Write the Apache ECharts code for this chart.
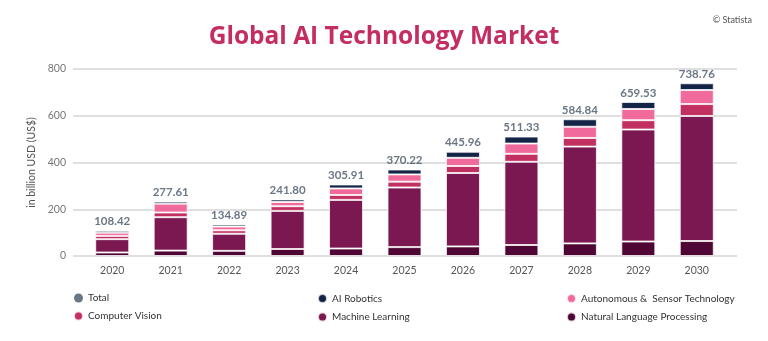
<!DOCTYPE html>
<html>
<head>
<meta charset="utf-8">
<script src="https://cdn.jsdelivr.net/npm/echarts@6/dist/echarts.min.js"></script>
<style>html,body{margin:0;padding:0;background:#fff}#c{width:768px;height:341px}</style>
</head>
<body>
<div id="c"></div>
<script>
var years = ['2020','2021','2022','2023','2024','2025','2026','2027','2028','2029','2030'];
var totals = ['108.42','277.61','134.89','241.80','305.91','370.22','445.96','511.33','584.84','659.53','738.76'];
var nlp = [15, 23, 22, 30, 32, 38, 41, 47, 54, 62, 64];
var machineLearning = [57, 143, 73, 163, 208, 255, 314, 356, 414, 479, 535];
var computerVision = [14, 20, 15, 20, 21, 25, 30, 34, 37, 40, 51];
var autonomous = [14, 38, 16, 18, 28, 31, 35, 44, 48, 48, 60];
var robotics = [8, 9, 9, 11, 17, 21, 26, 30, 32, 30, 29];
var yTicks = [0, 200, 400, 600, 800];

var FONT = 'Lato, "Open Sans", sans-serif';
var stackTop = years.map(function(_, i){
  return nlp[i] + machineLearning[i] + computerVision[i] + autonomous[i] + robotics[i];
});

function barSeries(name, data, color){
  return {
    name: name, type: 'bar', stack: 'all', data: data,
    xAxisIndex: 1, yAxisIndex: 1, barWidth: 34,
    itemStyle: { color: color, borderColor: 'rgba(255,255,255,0.75)', borderWidth: 1 }
  };
}

var chart = echarts.init(document.getElementById('c'), null, {renderer: 'canvas'});
chart.setOption({
  animation: false,
  textStyle: { fontFamily: FONT },
  title: [
    { text: 'Global AI Technology Market', left: 'center', top: 20,
      textStyle: { color: '#c42d62', fontSize: 24.5, fontWeight: 'bold', fontFamily: '"Open Sans", sans-serif' } },
    { text: '© Statista', right: 11, top: 11,
      textStyle: { color: '#555', fontSize: 9, fontWeight: 'normal', fontFamily: FONT } }
  ],
  grid: [
    { left: 73, right: 31, top: 69, bottom: 85 },
    { left: 83, right: 42, top: 69, bottom: 85 }
  ],
  xAxis: [
    { type: 'value', gridIndex: 0, min: 0, max: 1, show: false },
    { type: 'category', gridIndex: 1, data: years,
      axisLine: { show: false }, axisTick: { show: false },
      axisLabel: { color: '#555', fontSize: 10.5, margin: 9, fontFamily: FONT } }
  ],
  yAxis: [
    { type: 'value', gridIndex: 0, min: yTicks[0], max: yTicks[yTicks.length-1], interval: 200,
      axisLine: { show: false }, axisTick: { show: false },
      axisLabel: { color: '#777', fontSize: 10.5, margin: 7, fontFamily: FONT },
      splitLine: { lineStyle: { color: '#d4d4d4', width: 1.5 } },
      name: 'in billion USD (US$)', nameLocation: 'middle', nameGap: 36,
      nameTextStyle: { color: '#555', fontSize: 10.5, fontFamily: FONT } },
    { type: 'value', gridIndex: 1, min: 0, max: 800, show: false }
  ],
  legend: [
    { data: ['Total', 'Computer Vision'], orient: 'vertical', left: 68, top: 288,
      icon: 'circle', itemWidth: 9, itemHeight: 9, itemGap: 7.5,
      textStyle: { color: '#333', fontSize: 10, fontFamily: FONT } },
    { data: ['AI Robotics', 'Machine Learning'], orient: 'vertical', left: 312, top: 288,
      icon: 'circle', itemWidth: 9, itemHeight: 9, itemGap: 7.5,
      textStyle: { color: '#333', fontSize: 10, fontFamily: FONT } },
    { data: ['Autonomous &  Sensor Technology', 'Natural Language Processing'], orient: 'vertical', left: 561, top: 288,
      icon: 'circle', itemWidth: 9, itemHeight: 9, itemGap: 7.5,
      textStyle: { color: '#333', fontSize: 10, fontFamily: FONT } }
  ],
  series: [
    barSeries('Natural Language Processing', nlp, '#4f0634'),
    barSeries('Machine Learning', machineLearning, '#7b1751'),
    barSeries('Computer Vision', computerVision, '#c22f61'),
    barSeries('Autonomous &  Sensor Technology', autonomous, '#f06b9b'),
    barSeries('AI Robotics', robotics, '#132447'),
    { name: 'Total', type: 'scatter', xAxisIndex: 1, yAxisIndex: 1,
      data: stackTop, symbolSize: 0.1, itemStyle: { color: '#465467' },
      label: { show: true, position: 'top', distance: 3,
        formatter: function(p){ return totals[p.dataIndex]; },
        color: '#465467', fontSize: 11.5, fontWeight: 'bold', fontFamily: FONT } }
  ]
});
</script>
</body>
</html>
